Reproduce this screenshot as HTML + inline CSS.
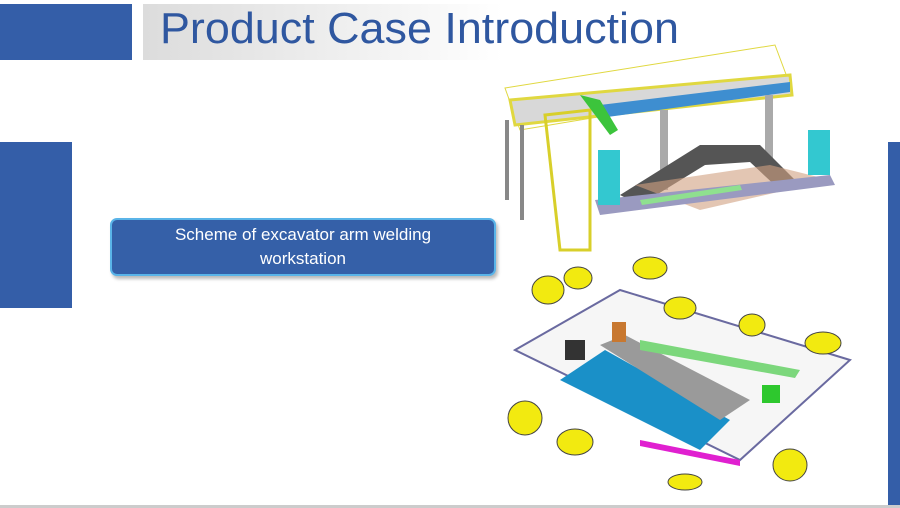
<!DOCTYPE html>
<html><head><style>
body{margin:0;width:900px;height:508px;background:#fff;position:relative;overflow:hidden;font-family:"Liberation Sans",sans-serif}
.a{position:absolute}
</style></head><body>
<div class="a" style="left:0;top:4px;width:132px;height:56px;background:#345ea8"></div>
<div class="a" style="left:143px;top:4px;width:360px;height:56px;background:linear-gradient(90deg,#dcdcdc,#f4f4f4 70%,#fff)"></div>
<div class="a" style="left:160px;top:4px;font-size:44px;color:#2f57a0;transform:scaleX(1.02);transform-origin:left;white-space:nowrap">Product Case Introduction</div>
<div class="a" style="left:0;top:142px;width:72px;height:166px;background:#345ea8"></div>
<div class="a" style="left:888px;top:142px;width:12px;height:363px;background:#345ea8"></div>
<div class="a" style="left:0;top:505px;width:900px;height:3px;background:#ccc"></div>
<div class="a" style="left:110px;top:218px;width:382px;height:54px;background:#3560a8;border:2px solid #5ab4e8;border-radius:7px;box-shadow:2px 3px 3px #bbb;color:#fff;font-size:17px;text-align:center;line-height:24px;display:flex;align-items:center;justify-content:center">Scheme of excavator arm welding<br>workstation</div>
<svg class="a" style="left:0;top:0" width="900" height="508">
<g>
<polygon points="505,88 775,45 790,85 520,130" fill="none" stroke="#e0d840" stroke-width="1"/>
<polygon points="510,100 790,75 792,95 515,125" fill="#d8d8d8" stroke="#e0d840" stroke-width="3"/>
<polygon points="600,105 790,82 790,92 600,118" fill="#3e8ed0"/>
<rect x="505" y="120" width="4" height="80" fill="#888"/><rect x="520" y="125" width="4" height="95" fill="#888"/>
<rect x="660" y="110" width="8" height="80" fill="#aaa"/><rect x="765" y="95" width="8" height="80" fill="#aaa"/>
<polygon points="545,115 590,110 590,250 560,250" fill="none" stroke="#d8cf2a" stroke-width="3"/>
<polygon points="580,95 600,100 618,130 610,135" fill="#3cc43c"/>
<polygon points="620,195 700,145 760,145 800,185 780,190 750,162 705,165 640,205" fill="#555"/>
<polygon points="635,185 770,165 830,180 700,210" fill="#d0a080" opacity="0.6"/>
<polygon points="595,200 830,175 835,185 600,215" fill="#9a9ac0"/>
<rect x="598" y="150" width="22" height="55" fill="#33c8d0"/><rect x="808" y="130" width="22" height="45" fill="#33c8d0"/>
<polygon points="640,200 740,185 742,190 642,205" fill="#8fe08f"/>
</g>
<g>
<polygon points="515,350 620,290 850,360 740,460" fill="#f6f6f6" stroke="#6a6aa0" stroke-width="2"/>
<polygon points="560,380 605,350 730,420 700,450" fill="#1a90c8"/>
<polygon points="600,345 625,335 750,400 720,420" fill="#9a9a9a"/>
<polygon points="640,340 800,370 795,378 640,350" fill="#7cd77c"/>
<rect x="762" y="385" width="18" height="18" fill="#2ec82e"/>
<rect x="565" y="340" width="20" height="20" fill="#333"/>
<rect x="612" y="322" width="14" height="20" fill="#c87830"/>
<polygon points="640,440 740,460 740,466 640,446" fill="#e020d0"/>
<g fill="#f2ea10" stroke="#444" stroke-width="1">
<ellipse cx="548" cy="290" rx="16" ry="14"/><ellipse cx="578" cy="278" rx="14" ry="11"/><ellipse cx="650" cy="268" rx="17" ry="11"/>
<ellipse cx="680" cy="308" rx="16" ry="11"/><ellipse cx="752" cy="325" rx="13" ry="11"/><ellipse cx="823" cy="343" rx="18" ry="11"/>
<ellipse cx="525" cy="418" rx="17" ry="17"/><ellipse cx="575" cy="442" rx="18" ry="13"/><ellipse cx="790" cy="465" rx="17" ry="16"/>
<ellipse cx="685" cy="482" rx="17" ry="8"/>
</g>
</g>
</svg>
</body></html>
